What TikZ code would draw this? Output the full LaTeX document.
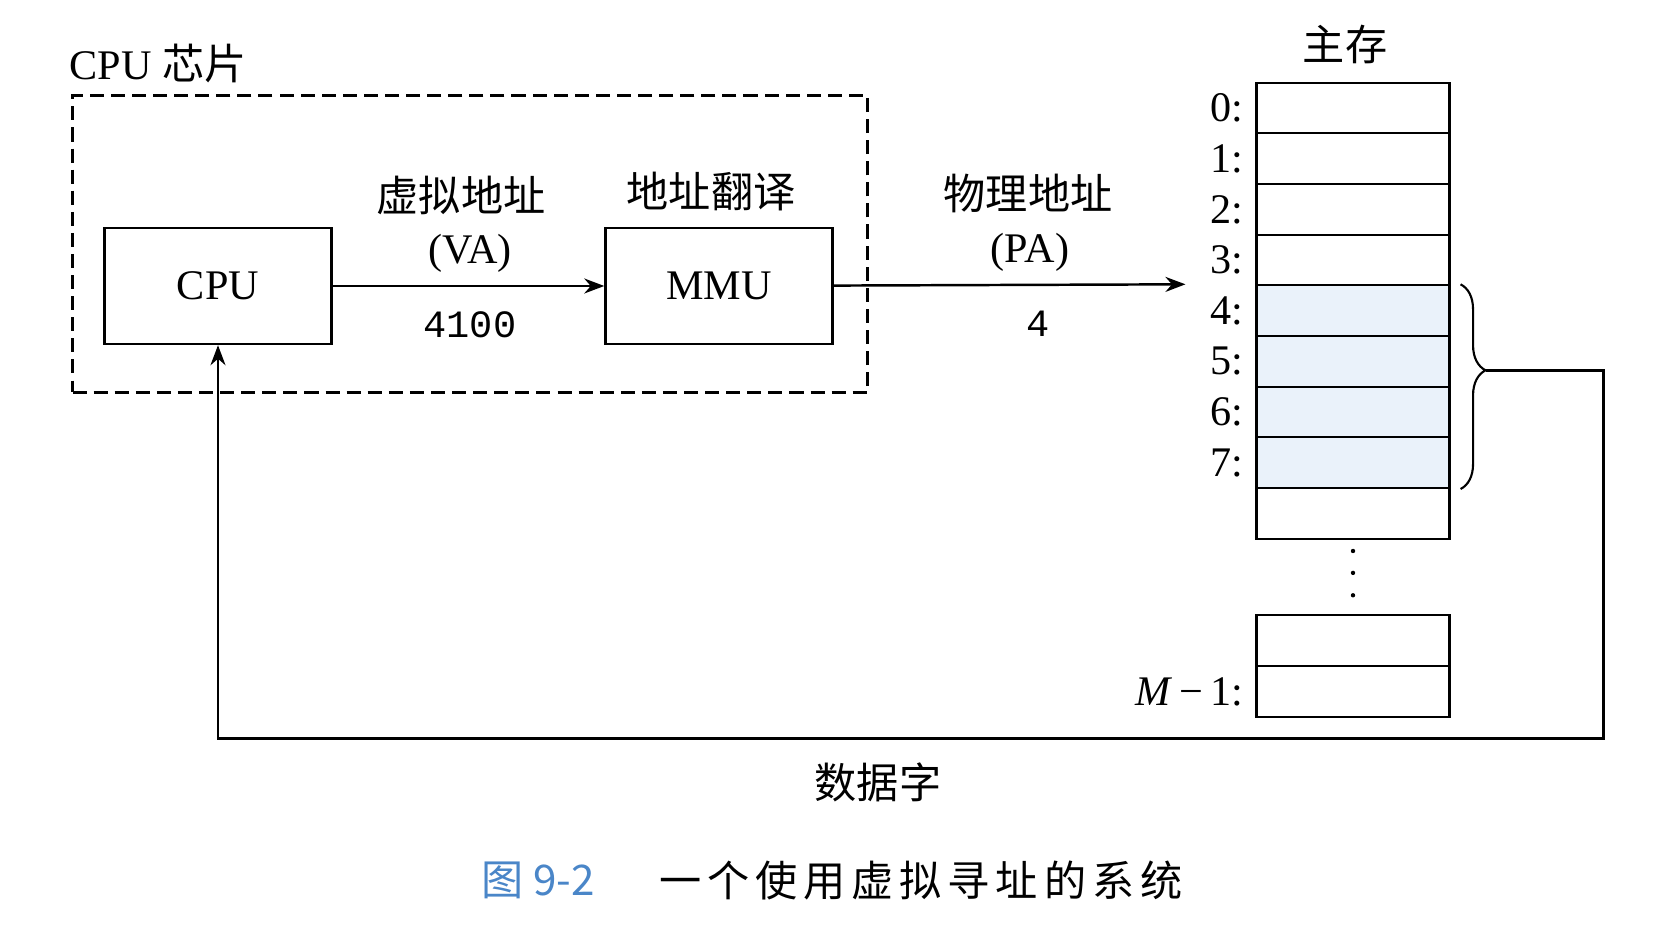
\documentclass[tikz,border=0pt]{standalone}
\usepackage{fontspec}
\setmainfont{Liberation Serif}
\setmonofont{Liberation Mono}
\newfontfamily\cjk{Noto Sans CJK SC}
\newfontfamily\cjkcap[LetterSpace=14]{Noto Sans CJK SC}
\usetikzlibrary{arrows.meta, positioning, calc, decorations.pathreplacing}
\definecolor{memblue}{RGB}{234,242,250}
\definecolor{figblue}{RGB}{74,134,200}

\begin{document}
\begin{tikzpicture}[
    box/.style={draw, line width=0.7pt, minimum width=2.27cm,
                minimum height=1.16cm, font=\fontsize{12}{14}\selectfont},
    cell/.style={draw, line width=0.6pt, minimum width=1.93cm,
                 minimum height=0.5065cm, inner sep=0},
    txt/.style={font=\fontsize{12}{14}\selectfont},
    zh/.style={font=\fontsize{12}{14}\selectfont\cjk},
    >={Stealth[length=2mm, width=1.5mm]}
  ]
  \useasboundingbox (0,0) rectangle (16.74,9.38);

  % CPU chip
  \node[draw, dashed, dash pattern=on 4pt off 2pt, line width=0.6pt,
        minimum width=7.95cm, minimum height=2.97cm] (chip) at (4.70, 6.94) {};
  \node[txt, anchor=west, inner sep=0] (chiplbl) at (0.69, 8.74) {CPU {\cjk 芯片}};
  \node[box] (cpu) at (2.18, 6.52) {CPU};
  \node[box] (mmu) at (7.19, 6.52) {MMU};
  \node[zh] (valbl) at (4.61, 7.43) {虚拟地址};
  \node[txt] (va) at (4.70, 6.85) {(VA)};
  \node[font=\fontsize{11}{13}\ttfamily] (vaddr) at (4.70, 6.13) {4100};
  \node[zh] (mmulbl) at (7.11, 7.46) {地址翻译};

  % physical address
  \node[zh] (palbl) at (10.28, 7.45) {物理地址};
  \node[txt] (pa) at (10.30, 6.86) {(PA)};
  \node[font=\fontsize{11}{13}\ttfamily] (paddr) at (10.38, 6.14) {4};

  % main memory
  \node[zh] (memlbl) at (13.45, 8.94) {主存};
  \foreach \i in {0,...,3}
    \node[cell] (m\i) at (13.53, 8.299-\i*0.5065) {};
  \foreach \i in {4,...,7}
    \node[cell, fill=memblue] (m\i) at (13.53, 8.299-\i*0.5065) {};
  \node[cell] (m8) at (13.53, 8.299-8*0.5065) {};
  \foreach \i in {0,...,7}
    \node[txt, anchor=east] (a\i) at (m\i.west) {\i:};
  \foreach \y in {3.870, 3.651, 3.427}
    \fill (13.53, \y) circle (0.022cm);
  \node[cell] (mx) at (13.53, 2.973) {};
  \node[cell] (mlast) at (13.53, 2.466) {};
  \node[txt, anchor=east] (alast) at (mlast.west) {\textit{M}\,−\,1:};

  \draw[line width=0.6pt, decorate,
        decoration={brace, amplitude=0.25cm, aspect=0.42}]
    ([xshift=0.1cm]m4.north east) -- ([xshift=0.1cm]m7.south east);

  \coordinate (tip) at ([xshift=0.35cm]$(m4.north east)!0.42!(m7.south east)$);
  \coordinate (ret) at (16.035, 1.996);
  \coordinate (paend) at ([xshift=-0.7cm]m4.north west);

  \draw[->, line width=0.7pt] (cpu) -- (mmu);
  \draw[->, line width=0.7pt] (mmu) -- (paend);
  \draw[->, line width=0.7pt] (tip) -| (ret) -| (cpu.south);
  \node[zh] (word) at (8.78, 1.56) {数据字};

  % caption
  \node[font=\fontsize{12}{14}\selectfont\cjk, text=figblue, anchor=west]
    (capnum) at (4.69, 0.58) {图 9-2};
  \node[font=\fontsize{12}{14}\selectfont\cjkcap, anchor=west]
    (captxt) at (6.47, 0.58) {一个使用虚拟寻址的系统};
\end{tikzpicture}
\end{document}
